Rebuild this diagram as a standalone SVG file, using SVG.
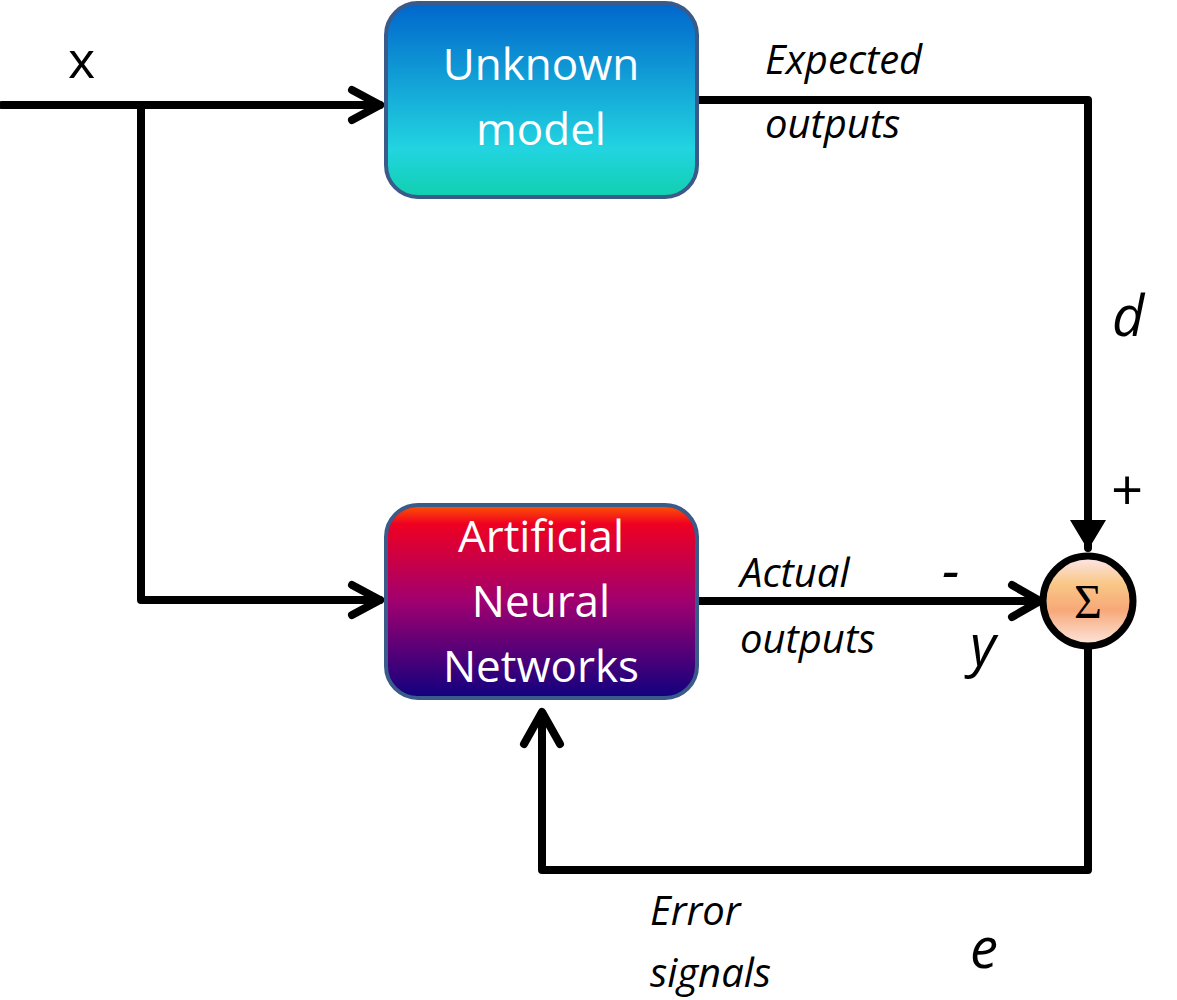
<svg xmlns="http://www.w3.org/2000/svg" width="1177" height="1000" viewBox="0 0 1177 1000">
<defs>
<linearGradient id="gBlue" x1="0" y1="0" x2="0" y2="1">
<stop offset="0" stop-color="#0066cc"/><stop offset="0.75" stop-color="#22d4e0"/><stop offset="1" stop-color="#10d0b0"/>
</linearGradient>
<linearGradient id="gRed" x1="0" y1="0" x2="0" y2="1">
<stop offset="0" stop-color="#ff5500"/><stop offset="0.1" stop-color="#ee0022"/><stop offset="0.5" stop-color="#a00070"/><stop offset="1" stop-color="#100080"/>
</linearGradient>
<linearGradient id="gSum" x1="0" y1="0" x2="0" y2="1">
<stop offset="0" stop-color="#fde8f0"/><stop offset="0.3" stop-color="#f9c888"/><stop offset="0.6" stop-color="#f7a878"/><stop offset="1" stop-color="#fde8e0"/>
</linearGradient>
<style>
.ln{fill:none;stroke:#000;stroke-width:8;stroke-linecap:round;stroke-linejoin:round}
.box{stroke:#3a5a8a;stroke-width:4}
.bt{font-family:"Open Sans","DejaVu Sans",sans-serif;font-size:44px;fill:#fff;text-anchor:middle}
.it{font-family:"Open Sans","DejaVu Sans",sans-serif;font-size:40px;font-style:italic;fill:#000}
.big{font-family:"Open Sans","DejaVu Sans",sans-serif;font-size:56px;font-style:italic;fill:#000}
</style>
</defs>
<g id="connectors">
<path class="ln" d="M2 105 H380"/>
<path class="ln" d="M352 90 L380 105 L352 120"/>
<path class="ln" d="M141 105 V600 H380"/>
<path class="ln" d="M352 585 L380 600 L352 615"/>
<path class="ln" d="M697 100 H1088 V548"/>
<path class="ln" d="M697 601 H1040"/>
<path class="ln" d="M1012 585 L1040 601 L1012 617"/>
<path class="ln" d="M1088 648 V870 H542 V716"/>
<path d="M1070 520 L1106 520 L1088 550 Z" fill="#000"/>
<path d="M1040 601 L1012 585 L1012 617 Z" fill="#000" opacity="0"/>
<path d="M524 744 L542 712 L560 744" class="ln"/>
</g>
<g id="unknown">
<rect class="box" x="386" y="3" width="311" height="194" rx="32" fill="url(#gBlue)"/>
<text class="bt" x="541" y="80">Unknown</text>
<text class="bt" x="541" y="145">model</text>
</g>
<g id="ann">
<rect class="box" x="386" y="505" width="311" height="193" rx="32" fill="url(#gRed)"/>
<text class="bt" x="541" y="552">Artificial</text>
<text class="bt" x="541" y="617">Neural</text>
<text class="bt" x="541" y="682">Networks</text>
</g>
<g id="sum">
<circle cx="1088" cy="601" r="45" fill="url(#gSum)" stroke="#000" stroke-width="7"/>
<text x="1088" y="618" text-anchor="middle" font-family="'Liberation Serif',serif" font-size="48" fill="#000">Σ</text>
</g>
<g id="labels">
<text x="68" y="78" font-family="'Open Sans','DejaVu Sans',sans-serif" font-size="52" fill="#000">x</text>
<text class="it" x="765" y="74">Expected</text>
<text class="it" x="765" y="138">outputs</text>
<text class="big" x="1112" y="336">d</text>
<text class="big" x="1110" y="510">+</text>
<text class="it" x="740" y="587">Actual</text>
<text class="it" x="740" y="653">outputs</text>
<text class="big" x="942" y="590">-</text>
<text class="big" x="970" y="665">y</text>
<text class="it" x="650" y="925">Error</text>
<text class="it" x="650" y="987">signals</text>
<text class="big" x="970" y="968">e</text>
</g>
</svg>
